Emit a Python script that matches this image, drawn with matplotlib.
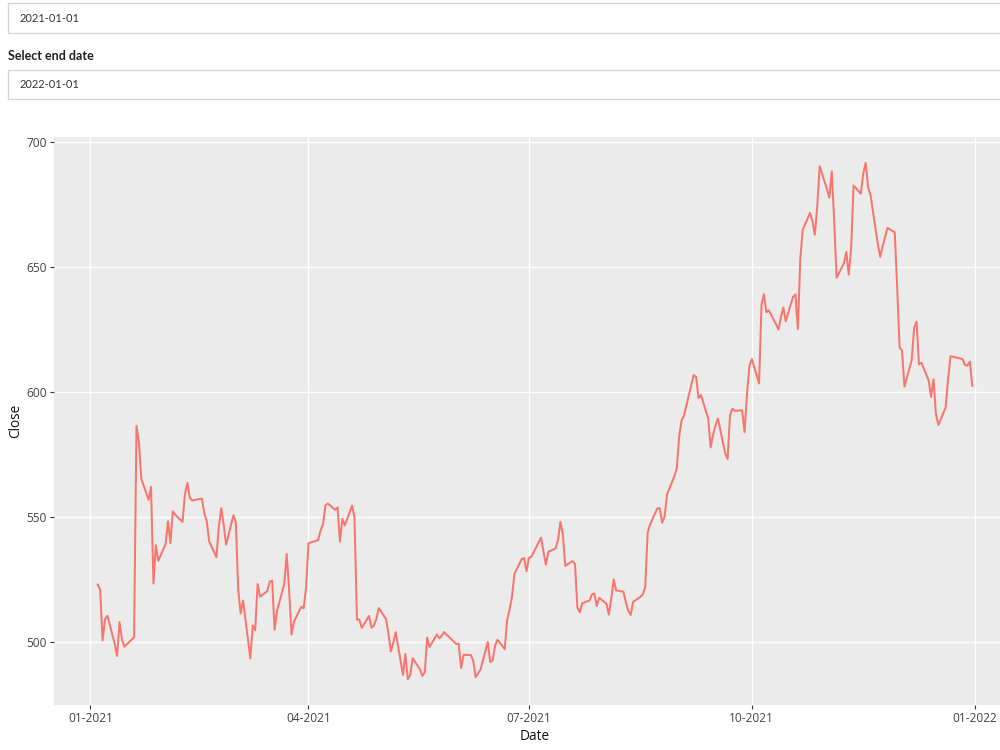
import matplotlib
matplotlib.use("Agg")
import matplotlib.pyplot as plt
import matplotlib.dates as mdates
from matplotlib.patches import Rectangle
import pandas as pd

start_label = "2021-01-01"
end_label = "2022-01-01"
input_title = "Select end date"
x_title = "Date"
y_title = "Close"

dates = [
    "2021-01-04","2021-01-05","2021-01-06","2021-01-07","2021-01-08","2021-01-11","2021-01-12","2021-01-13","2021-01-14","2021-01-15",
    "2021-01-19","2021-01-20","2021-01-21","2021-01-22","2021-01-25","2021-01-26","2021-01-27","2021-01-28","2021-01-29",
    "2021-02-01","2021-02-02","2021-02-03","2021-02-04","2021-02-05","2021-02-08","2021-02-09","2021-02-10","2021-02-11","2021-02-12",
    "2021-02-16","2021-02-17","2021-02-18","2021-02-19","2021-02-22","2021-02-23","2021-02-24","2021-02-25","2021-02-26",
    "2021-03-01","2021-03-02","2021-03-03","2021-03-04","2021-03-05","2021-03-08","2021-03-09","2021-03-10","2021-03-11","2021-03-12",
    "2021-03-15","2021-03-16","2021-03-17","2021-03-18","2021-03-19","2021-03-22","2021-03-23","2021-03-24","2021-03-25","2021-03-26",
    "2021-03-29","2021-03-30","2021-03-31",
    "2021-04-01","2021-04-05","2021-04-06","2021-04-07","2021-04-08","2021-04-09","2021-04-12","2021-04-13","2021-04-14","2021-04-15",
    "2021-04-16","2021-04-19","2021-04-20","2021-04-21","2021-04-22","2021-04-23","2021-04-26","2021-04-27","2021-04-28","2021-04-29","2021-04-30",
    "2021-05-03","2021-05-04","2021-05-05","2021-05-06","2021-05-07","2021-05-10","2021-05-11","2021-05-12","2021-05-13","2021-05-14",
    "2021-05-17","2021-05-18","2021-05-19","2021-05-20","2021-05-21","2021-05-24","2021-05-25","2021-05-26","2021-05-27","2021-05-28",
    "2021-06-01","2021-06-02","2021-06-03","2021-06-04","2021-06-07","2021-06-08","2021-06-09","2021-06-10","2021-06-11",
    "2021-06-14","2021-06-15","2021-06-16","2021-06-17","2021-06-18","2021-06-21","2021-06-22","2021-06-23","2021-06-24","2021-06-25",
    "2021-06-28","2021-06-29","2021-06-30",
    "2021-07-01","2021-07-02","2021-07-06","2021-07-07","2021-07-08","2021-07-09","2021-07-12","2021-07-13","2021-07-14","2021-07-15",
    "2021-07-16","2021-07-19","2021-07-20","2021-07-21","2021-07-22","2021-07-23","2021-07-26","2021-07-27","2021-07-28","2021-07-29","2021-07-30",
    "2021-08-02","2021-08-03","2021-08-04","2021-08-05","2021-08-06","2021-08-09","2021-08-10","2021-08-11","2021-08-12","2021-08-13",
    "2021-08-16","2021-08-17","2021-08-18","2021-08-19","2021-08-20","2021-08-23","2021-08-24","2021-08-25","2021-08-26","2021-08-27",
    "2021-08-30","2021-08-31",
    "2021-09-01","2021-09-02","2021-09-03","2021-09-07","2021-09-08","2021-09-09","2021-09-10","2021-09-13","2021-09-14","2021-09-15",
    "2021-09-16","2021-09-17","2021-09-20","2021-09-21","2021-09-22","2021-09-23","2021-09-24","2021-09-27","2021-09-28","2021-09-29","2021-09-30",
    "2021-10-01","2021-10-04","2021-10-05","2021-10-06","2021-10-07","2021-10-08","2021-10-11","2021-10-12","2021-10-13","2021-10-14",
    "2021-10-15","2021-10-18","2021-10-19","2021-10-20","2021-10-21","2021-10-22","2021-10-25","2021-10-26","2021-10-27","2021-10-28","2021-10-29",
    "2021-11-01","2021-11-02","2021-11-03","2021-11-04","2021-11-05","2021-11-08","2021-11-09","2021-11-10","2021-11-11","2021-11-12",
    "2021-11-15","2021-11-16","2021-11-17","2021-11-18","2021-11-19","2021-11-22","2021-11-23","2021-11-24","2021-11-26","2021-11-29","2021-11-30",
    "2021-12-01","2021-12-02","2021-12-03","2021-12-06","2021-12-07","2021-12-08","2021-12-09","2021-12-10","2021-12-13","2021-12-14",
    "2021-12-15","2021-12-16","2021-12-17","2021-12-20","2021-12-21","2021-12-22","2021-12-23","2021-12-27","2021-12-28","2021-12-29",
    "2021-12-30","2021-12-31",
]

close = [
    522.86,520.80,500.49,508.89,510.40,499.10,494.25,507.79,500.86,497.98,
    501.77,586.34,579.84,565.17,556.78,561.93,523.28,538.60,532.39,
    539.04,548.16,539.45,552.16,550.79,547.92,559.07,563.59,557.59,556.52,
    557.28,551.34,548.22,540.22,533.78,546.15,553.41,546.70,538.85,
    550.64,547.82,520.70,511.29,516.39,493.33,506.44,504.54,523.06,518.02,
    520.25,524.03,524.44,504.79,512.18,523.11,535.09,520.81,502.86,508.05,
    513.95,513.39,521.66,
    539.42,540.67,544.53,546.99,554.58,555.31,552.78,553.73,540.02,549.22,
    546.54,554.44,549.57,508.90,508.78,505.55,510.30,505.55,506.52,509.00,513.47,
    509.11,503.18,496.08,499.55,503.84,486.69,495.08,484.98,486.66,493.37,
    488.94,486.28,487.70,501.67,497.89,502.90,501.34,502.36,503.86,502.81,
    499.08,499.24,489.43,494.74,494.66,492.39,485.81,487.27,488.77,
    499.89,491.90,492.41,498.34,500.77,497.00,508.82,512.74,518.06,527.07,
    533.03,533.50,528.21,
    533.54,533.98,541.64,535.96,530.76,535.98,537.31,540.68,547.95,542.95,
    530.31,532.28,531.05,513.63,511.77,515.41,516.49,518.91,519.30,514.25,517.57,
    515.15,510.82,517.35,524.89,520.55,519.97,515.84,512.40,510.72,515.92,
    517.92,518.91,521.87,543.71,546.88,553.33,553.41,547.58,550.12,558.92,
    566.18,569.19,
    582.07,588.55,590.53,606.71,606.05,597.54,598.72,589.29,577.76,582.87,
    586.50,589.35,575.43,573.14,590.65,593.26,592.39,592.64,583.85,599.06,610.34,
    613.15,603.35,634.81,639.10,631.85,632.66,627.04,624.94,629.76,633.80,
    628.29,637.97,639.00,625.14,653.16,664.78,671.66,668.52,662.92,674.05,690.31,
    681.17,677.72,688.29,668.40,645.72,651.45,655.99,646.91,657.58,682.61,
    679.33,687.40,691.69,682.02,678.80,659.20,654.06,658.29,665.64,663.84,641.90,
    617.77,616.47,602.13,612.69,625.58,628.08,611.00,611.66,604.56,597.99,
    605.04,591.06,586.73,593.74,604.92,614.24,614.09,613.12,610.71,610.54,
    612.09,602.44,
]

x_ticks = ["2021-01-01", "2021-04-01", "2021-07-01", "2021-10-01", "2022-01-01"]
y_ticks = [500, 550, 600, 650, 700]

W, H = 1000, 750
fig = plt.figure(figsize=(10, 7.5), dpi=100)
fig.patch.set_facecolor("white")

def fx(px):
    return px / W

def fy(py):
    return 1 - py / H

# --- header widgets (date inputs) ---
for top, bottom in [(3, 33), (70, 99)]:
    fig.add_artist(Rectangle((fx(8), fy(bottom)), fx(1010) - fx(8), fy(top) - fy(bottom),
                             transform=fig.transFigure, facecolor="white",
                             edgecolor="#d3d6da", linewidth=1.0))
fig.text(fx(20), fy(18.5), start_label, fontsize=8, family=["Lato", "DejaVu Sans"],
         color="#333333", va="center", ha="left")
fig.text(fx(8), fy(56), input_title, fontsize=9, family=["Lato", "DejaVu Sans"],
         fontweight="bold", color="#222222", va="center", ha="left")
fig.text(fx(20), fy(85), end_label, fontsize=8, family=["Lato", "DejaVu Sans"],
         color="#333333", va="center", ha="left")

# --- plot ---
d = pd.to_datetime(dates)
left_px, right_px, top_px, bottom_px = 54, 1016, 137, 705
ax = fig.add_axes([fx(left_px), fy(bottom_px), (right_px - left_px) / W, (bottom_px - top_px) / H])
ax.set_facecolor("#EBEBEB")
ax.plot(d, close, color="#F8766D", linewidth=1.45, solid_joinstyle="round")

span = d.max() - d.min()
ax.set_xlim(d.min() - span * 0.05, d.max() + span * 0.05)
ymin, ymax = min(close), max(close)
yr = ymax - ymin
ax.set_ylim(ymin - 0.05 * yr, ymax + 0.05 * yr)

ax.set_xticks(pd.to_datetime(x_ticks))
ax.xaxis.set_major_formatter(mdates.DateFormatter("%m-%Y"))
ax.set_yticks(y_ticks)
ax.grid(True, color="white", linewidth=1.0)
ax.set_axisbelow(True)
for s in ax.spines.values():
    s.set_visible(False)
ax.tick_params(axis="both", length=3, width=0.8, color="#333333", labelcolor="#444444",
               labelsize=8.6, pad=2)
for lab in ax.get_xticklabels() + ax.get_yticklabels():
    lab.set_family(["Open Sans", "DejaVu Sans"])

fig.text(fx(535), fy(737), x_title, fontsize=9.8, family=["Open Sans", "DejaVu Sans"],
         color="#111111", ha="center", va="center")
fig.text(fx(16), fy(421), y_title, fontsize=9.8, family=["Open Sans", "DejaVu Sans"],
         color="#111111", ha="center", va="center", rotation=90)

fig.savefig("out.png", dpi=100)
